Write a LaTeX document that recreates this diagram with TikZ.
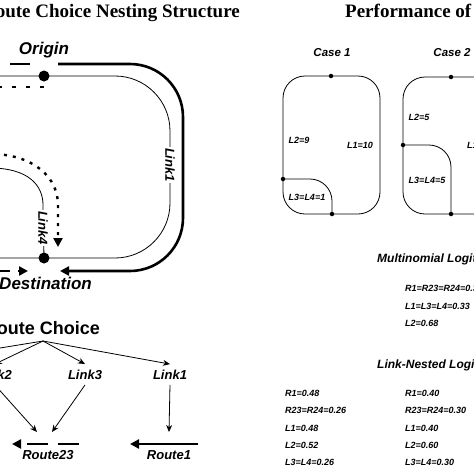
\documentclass[tikz,border=0pt]{standalone}
\usepackage{fontspec}
\setmainfont{Liberation Serif}
\setsansfont{Liberation Sans}
\usetikzlibrary{arrows.meta}

\tikzset{
  title/.style={font=\bfseries\fontsize{19}{19}\selectfont, inner sep=0pt},
  head/.style={font=\sffamily\bfseries\fontsize{18}{18}\selectfont, inner sep=0pt},
  big/.style={font=\sffamily\bfseries\itshape\fontsize{17}{17}\selectfont, inner sep=0pt},
  lab/.style={font=\sffamily\bfseries\itshape\fontsize{13}{13}\selectfont, inner sep=1pt},
  mid/.style={font=\sffamily\bfseries\itshape\fontsize{12}{12}\selectfont, inner sep=0pt},
  casehead/.style={font=\sffamily\bfseries\itshape\fontsize{11.5}{11.5}\selectfont, inner sep=0pt},
  val/.style={font=\sffamily\bfseries\itshape\fontsize{9}{9}\selectfont, inner sep=0pt},
  dot/.style={circle, fill, inner sep=0pt, minimum size=11pt},
  tinydot/.style={circle, fill, inner sep=0pt, minimum size=4.5pt},
  net/.style={line width=0.8pt},
  route/.style={line width=2.6pt, -{Triangle[length=9pt,width=9pt]}},
  pick/.style={line width=0.8pt, -{Stealth[length=7pt,width=6pt]}},
}

\begin{document}
\begin{tikzpicture}[x=1pt, y=-1pt]
  \useasboundingbox (0,0) rectangle (474,474);
  \clip (0,0) rectangle (474,474);

  % titles
  \node[title, anchor=base east] (nesttitle) at (240,17) {Route Choice Nesting Structure};
  \node[title, anchor=base west] (perftitle) at (345,17) {Performance of};

  % network
  \node[dot] (orig) at (44,76) {};
  \node[dot] (dest) at (44,258) {};
  \node[big] (origlab) at (44,50) {Origin};
  \node[big, anchor=east] (destlab) at (92,283) {Destination};
  \draw[net, rounded corners=55pt] (-10,76) -- (orig.center) -- (170,76) -- (170,258) -- (dest.center) -- (-10,258);
  \draw[net] (-10,168) .. controls (28,168) and (43,185) .. (43,205) -- (dest.center);
  \node[lab, rotate=-90, fill=white] (link1lab) at (170,165) {Link1};
  \node[lab, rotate=-90, fill=white] (link4lab) at (43,228) {Link4};

  % routes on the network
  \draw[line width=2.6pt] (10,64) -- (30,64);
  \draw[route, rounded corners=53pt] (58,64) -- (183,64) -- (183,271) -- (60,271);
  \draw[line width=2.4pt, dash pattern=on 3pt off 6pt, -{Triangle[length=9pt,width=9pt]}]
    (-5,154) .. controls (35,156) and (58,178) .. (58,205) -- (58,247);
  \draw[line width=1.6pt, dash pattern=on 4pt off 10pt] (-2,87) -- (46,87);
  \draw[route, dash pattern=on 14pt off 8pt] (-4,271) -- (28,271);

  % route choice tree
  \node[head, anchor=east] (rc) at (100,328) {Route Choice};
  \coordinate (apex) at (43,341);
  \coordinate (offleft) at (-92,363);
  \node[lab, anchor=east] (lk2) at (13,375) {Link2};
  \node[lab] (lk3) at (85,375) {Link3};
  \node[lab] (lk1) at (170,375) {Link1};
  \draw[pick] (apex) -- (offleft);
  \draw[pick] (apex) -- ([yshift=5pt]lk2.north);
  \draw[pick] (apex) -- ([yshift=5pt]lk3.north);
  \draw[pick] (apex) -- ([yshift=5pt]lk1.north);

  \node[lab] (r23) at (48,455) {Route23};
  \node[lab] (r1) at (169,455) {Route1};
  \coordinate (r23left) at (37,432);
  \coordinate (r23right) at (52,432);
  \coordinate (r1top) at (169,432);
  \draw[pick] ([yshift=-4pt]lk2.south) -- (r23left);
  \draw[pick] ([yshift=-4pt]lk3.south) -- (r23right);
  \draw[pick] ([yshift=-4pt]lk1.south) -- (r1top);
  \draw[route, dash pattern=on 21pt off 10pt] (79,444) -- (12,444);
  \draw[route] (198,444) -- (130,444);

  % Case 1
  \node[casehead] (case1) at (332,53) {Case 1};
  \draw[net, rounded corners=22pt] (283,76) rectangle (380,214);
  \node[tinydot] (c1top) at (331,76) {};
  \node[tinydot] (c1bot) at (332,214) {};
  \node[tinydot] (c1left) at (283,179) {};
  \draw[net, rounded corners=22pt] (c1left.center) -- (332,179) -- (c1bot.center);
  \node[val] (c1l2) at (299,140) {L2=9};
  \node[val] (c1l1) at (360,145) {L1=10};
  \node[val] (c1l34) at (307,197) {L3=L4=1};

  % Case 2
  \node[casehead] (case2) at (452,53) {Case 2};
  \draw[net, rounded corners=22pt] (403,77) rectangle (500,214);
  \node[tinydot] (c2top) at (451,77) {};
  \node[tinydot] (c2bot) at (451,214) {};
  \node[tinydot] (c2left) at (403,145) {};
  \draw[net, rounded corners=22pt] (c2left.center) -- (451,145) -- (c2bot.center);
  \node[val] (c2l2) at (419,117) {L2=5};
  \node[val] (c2l1) at (480,145) {L1=10};
  \node[val] (c2l34) at (427,180) {L3=L4=5};

  % results
  \node[mid, anchor=west] (mnl) at (377,259) {Multinomial Logit};
  \node[val, anchor=west] (m1) at (405,288) {R1=R23=R24=0.33};
  \node[val, anchor=west] (m2) at (405,306) {L1=L3=L4=0.33};
  \node[val, anchor=west] (m3) at (405,323) {L2=0.68};

  \node[mid, anchor=west] (lnl) at (377,365) {Link-Nested Logit};
  \node[val, anchor=west] (a1) at (285,393) {R1=0.48};
  \node[val, anchor=west] (a2) at (285,410) {R23=R24=0.26};
  \node[val, anchor=west] (a3) at (285,428) {L1=0.48};
  \node[val, anchor=west] (a4) at (285,445) {L2=0.52};
  \node[val, anchor=west] (a5) at (285,462) {L3=L4=0.26};
  \node[val, anchor=west] (b1) at (405,393) {R1=0.40};
  \node[val, anchor=west] (b2) at (405,410) {R23=R24=0.30};
  \node[val, anchor=west] (b3) at (405,428) {L1=0.40};
  \node[val, anchor=west] (b4) at (405,445) {L2=0.60};
  \node[val, anchor=west] (b5) at (405,462) {L3=L4=0.30};
\end{tikzpicture}
\end{document}
